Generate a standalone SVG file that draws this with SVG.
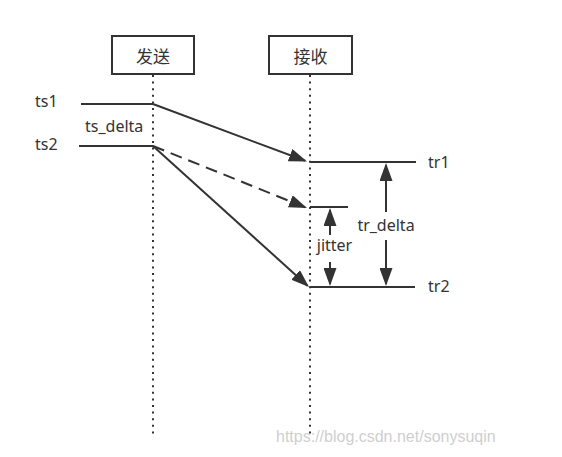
<svg xmlns="http://www.w3.org/2000/svg" width="562" height="457" viewBox="0 0 562 457">
<style>
.t{font-family:"Noto Sans","Open Sans","Noto Sans CJK SC",sans-serif;font-size:16px;fill:#333}
.cjk{font-family:"Noto Sans CJK SC",sans-serif;font-size:17px;fill:#333}
.box{fill:#fff;stroke:#333;stroke-width:2}
.ln{stroke:#333;stroke-width:2;fill:none}
.life{stroke:#333;stroke-width:2;stroke-dasharray:2 4.6;fill:none}
.arr{stroke:#333;stroke-width:2;fill:none;marker-end:url(#ah)}
.dash{stroke-dasharray:12 7}
</style>
<defs>
<marker id="ah" viewBox="0 0 18 13" refX="16" refY="6.5" markerWidth="18" markerHeight="13" markerUnits="userSpaceOnUse" orient="auto">
<path d="M0,0 L18,6.5 L0,13 z" fill="#333"/>
</marker>
</defs>
<rect width="562" height="457" fill="#fff"/>
<g id="sender">
<line class="life" x1="153" y1="75" x2="153" y2="435"/>
<rect class="box" x="112" y="36" width="82" height="38"/>
<text class="cjk" x="153" y="63" text-anchor="middle">发送</text>
</g>
<g id="receiver">
<line class="life" x1="310" y1="75" x2="310" y2="435"/>
<rect class="box" x="269" y="36" width="83" height="38"/>
<text class="cjk" x="310.5" y="63" text-anchor="middle">接收</text>
</g>
<g id="ts1">
<line class="ln" x1="81" y1="104" x2="153" y2="104"/>
<text class="t" x="35" y="107">ts1</text>
</g>
<g id="ts2">
<line class="ln" x1="79" y1="146" x2="153" y2="146"/>
<text class="t" x="35" y="150">ts2</text>
</g>
<g id="ts_delta">
<text class="t" x="85" y="132">ts_delta</text>
</g>
<g id="tr1">
<line class="ln" x1="310" y1="162" x2="416" y2="162"/>
<text class="t" x="428" y="168">tr1</text>
</g>
<g id="jitter-mark">
<line class="ln" x1="310" y1="207" x2="348" y2="207"/>
</g>
<g id="tr2">
<line class="ln" x1="310" y1="287" x2="415" y2="287"/>
<text class="t" x="428" y="292">tr2</text>
</g>
<g id="connectors">
<line class="arr" x1="153" y1="104" x2="305.1" y2="160.8"/>
<line class="arr dash" x1="153" y1="146" x2="305.1" y2="207.3"/>
<line class="arr" x1="153" y1="146" x2="307.5" y2="285.7"/>
<line class="arr" x1="330" y1="235" x2="330" y2="210"/>
<line class="arr" x1="330" y1="262" x2="330" y2="284"/>
<line class="arr" x1="386" y1="212" x2="386" y2="165"/>
<line class="arr" x1="386" y1="240" x2="386" y2="284"/>
</g>
<g id="labels">
<text class="t" x="334.5" y="251" text-anchor="middle">jitter</text>
<text class="t" x="386" y="231" text-anchor="middle">tr_delta</text>
</g>
<text x="276" y="442" style="font-family:'Liberation Sans',Arial,sans-serif;font-size:16px;fill:#cfcfcf">https://blog.csdn.net/sonysuqin</text>
</svg>
